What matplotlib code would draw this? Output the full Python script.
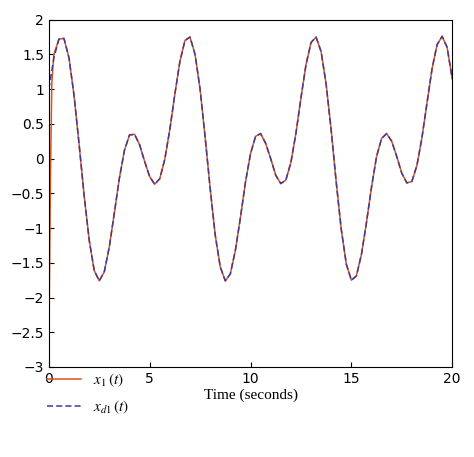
import matplotlib
matplotlib.use("Agg")
import matplotlib.pyplot as plt
plt.rcParams['mathtext.fontset'] = 'stix'

t_d = [i*0.25 for i in range(81)]
x_d1 = [1.00,1.45,1.72,1.73,1.45,0.91,0.21,-0.53,-1.17,-1.61,-1.76,-1.63,-1.27,-0.78,-0.28,0.12,
        0.34,0.35,0.20,-0.04,-0.26,-0.37,-0.29,-0.01,0.42,0.93,1.40,1.70,1.75,1.50,1.00,0.31,
        -0.43,-1.10,-1.56,-1.76,-1.66,-1.32,-0.85,-0.34,0.07,0.32,0.36,0.22,0.00,-0.24,-0.36,-0.31,
        -0.06,0.36,0.87,1.35,1.67,1.75,1.54,1.07,0.41,-0.34,-1.02,-1.52,-1.75,-1.69,-1.38,-0.92,
        -0.41,0.03,0.29,0.36,0.25,0.03,-0.21,-0.35,-0.33,-0.10,0.30,0.80,1.29,1.64,1.76,1.60,1.15]
t_1 = [0.0,0.03,0.08,0.15,0.25] + t_d[2:]
x_1 = [-3.0,-1.8,-0.3,1.1,1.5] + x_d1[2:]

fig = plt.figure(figsize=(4.74,4.57), dpi=100)
ax = fig.add_axes([0.103,0.197,0.851,0.76])
l1, = ax.plot(t_1, x_1, color="#d9541e", lw=1.1)
l2, = ax.plot(t_d, x_d1, color="#3b3b9e", lw=1.1, ls=(0,(4,2)))
ax.set_xlim(0,20); ax.set_ylim(-3,2)
ax.set_xticks([0,5,10,15,20])
ax.set_yticks([-3,-2.5,-2,-1.5,-1,-0.5,0,0.5,1,1.5,2])
ax.set_yticklabels(["−3","−2.5","−2","−1.5","−1","−0.5","0","0.5","1","1.5","2"])
ax.tick_params(direction="in", labelsize=10, top=False, right=False)
for s in ax.spines.values(): s.set_linewidth(0.8)
ax.set_xlabel("Time (seconds)", family="Liberation Serif", fontsize=11, labelpad=2)
fig.legend([l1,l2], ["$x_1\\,(t)$","$x_{d1}\\,(t)$"], loc="lower left",
           bbox_to_anchor=(0.07,0.06), frameon=False, handlelength=2.2, labelspacing=0.6,
           prop={"family":"Liberation Serif","size":11})
fig.savefig("out.png", dpi=100)
